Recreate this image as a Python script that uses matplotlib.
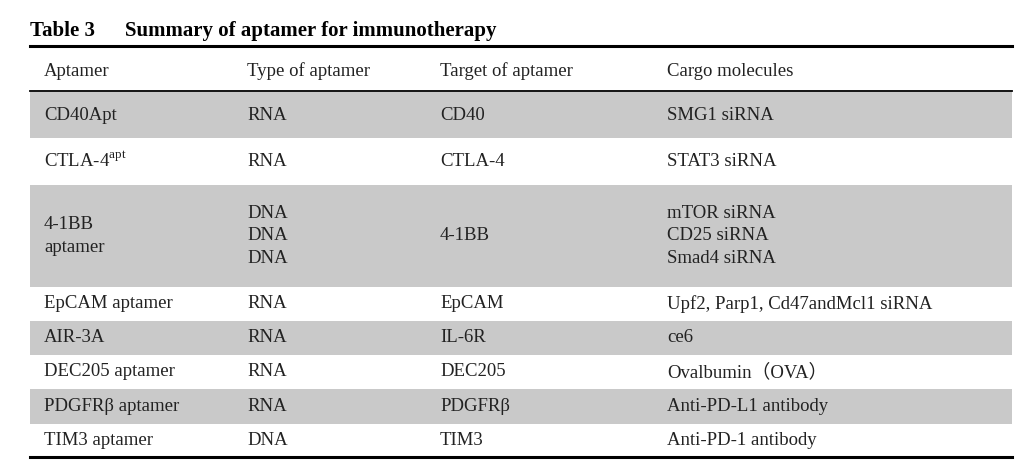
import matplotlib
matplotlib.use("Agg")
import matplotlib.pyplot as plt

title = "Table 3   Summary of aptamer for immunotherapy"
headers = ["Aptamer", "Type of aptamer", "Target of aptamer", "Cargo molecules"]
aptamers = ["CD40Apt", "CTLA-4$^{\\mathrm{apt}}$", "4-1BB\naptamer", "EpCAM aptamer", "AIR-3A",
            "DEC205 aptamer", "PDGFR\u03b2 aptamer", "TIM3 aptamer"]
types = ["RNA", "RNA", "DNA\nDNA\nDNA", "RNA", "RNA", "RNA", "RNA", "DNA"]
targets = ["CD40", "CTLA-4", "4-1BB", "EpCAM", "IL-6R", "DEC205", "PDGFR\u03b2", "TIM3"]
cargos = ["SMG1 siRNA", "STAT3 siRNA", "mTOR siRNA\nCD25 siRNA\nSmad4 siRNA",
          "Upf2, Parp1, Cd47andMcl1 siRNA", "ce6", "Ovalbumin\uff08OVA\uff09",
          "Anti-PD-L1 antibody", "Anti-PD-1 antibody"]

row_edges = [92, 138, 185, 287, 321, 355, 389, 424, 457]
col_x = [44, 247, 440, 667]
left, right = 30, 1012

plt.rcParams['font.family'] = ['Liberation Serif', 'Noto Sans CJK SC', 'DejaVu Serif']
plt.rcParams['mathtext.fontset'] = 'custom'
plt.rcParams['mathtext.rm'] = 'Liberation Serif'
fig = plt.figure(figsize=(10.24, 4.72), dpi=100)
ax = fig.add_axes([0, 0, 1, 1])
ax.set_xlim(0, 1024); ax.set_ylim(472, 0); ax.axis("off")
fs = 13.5

ax.text(left, 31, "Table 3", fontsize=15, fontweight="bold", va="center")
ax.text(125, 31, "Summary of aptamer for immunotherapy", fontsize=15, fontweight="bold", va="center")
ax.plot([left, right], [46, 46], color="black", lw=2.2)
for x, h in zip(col_x, headers):
    ax.text(x, 71, h, fontsize=fs, va="center", color="#222")
ax.plot([left, right], [91, 91], color="black", lw=1.3)

for i in range(len(aptamers)):
    y0, y1 = row_edges[i], row_edges[i + 1]
    if i % 2 == 0:
        ax.fill_between([left, right], y0, y1, color="#c9c9c9", lw=0)
    yc = (y0 + y1) / 2
    for x, t in zip(col_x, [aptamers[i], types[i], targets[i], cargos[i]]):
        ax.text(x, yc, t, fontsize=fs, va="center", color="#222", linespacing=1.45)
ax.plot([left, right], [457, 457], color="black", lw=2.2)

fig.savefig("out.png", dpi=100)
